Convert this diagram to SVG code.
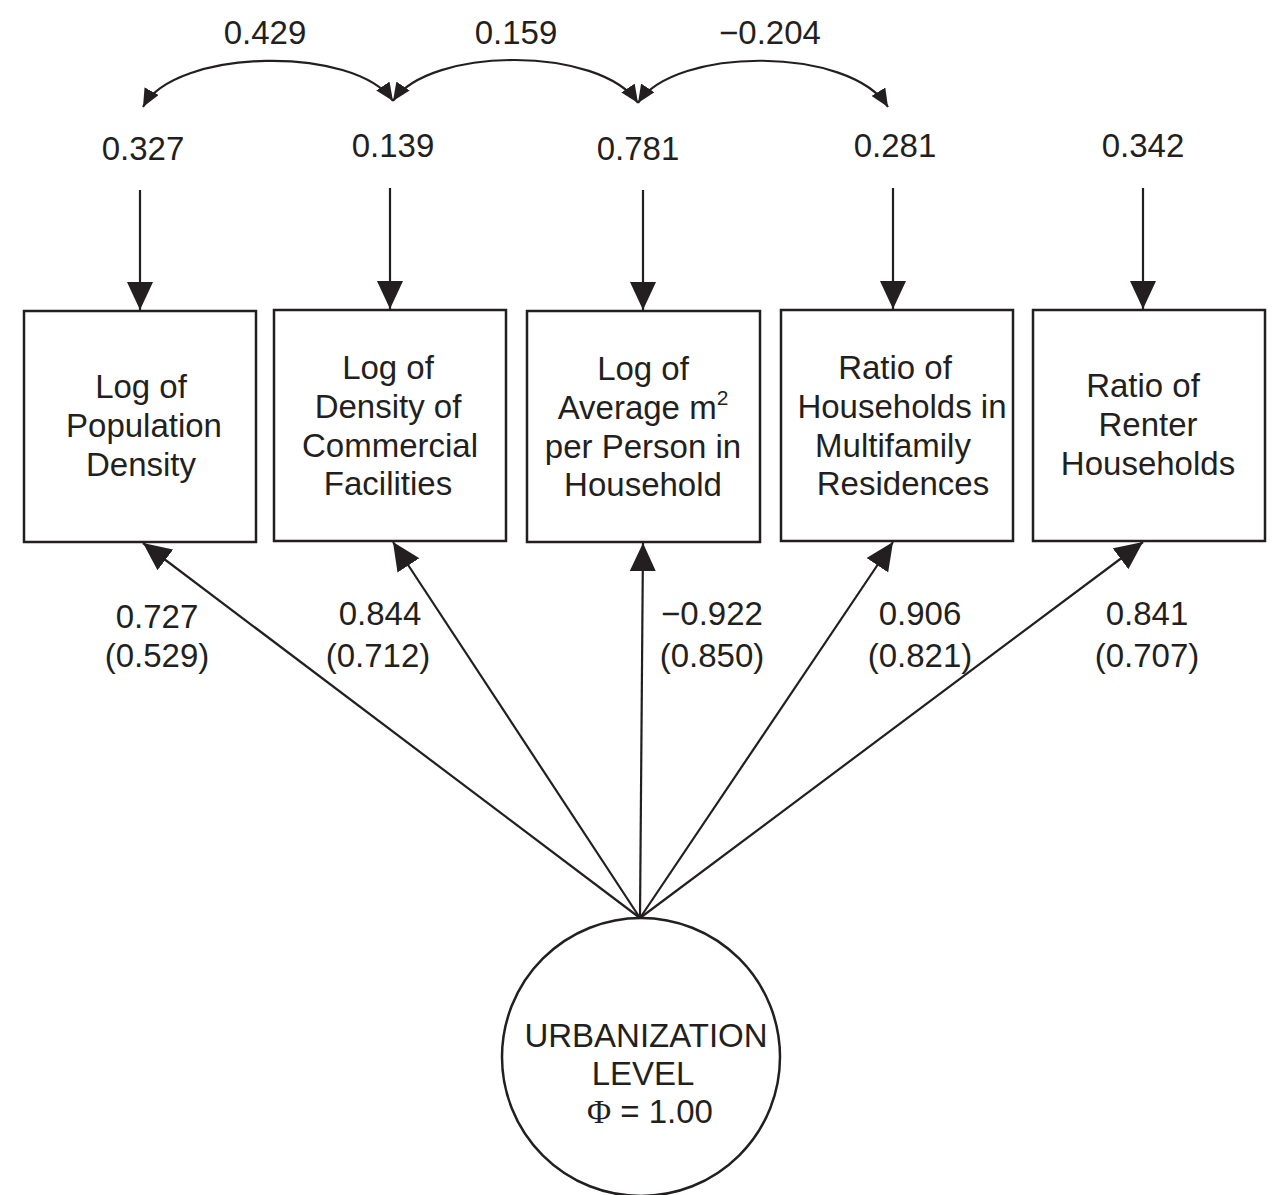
<svg xmlns="http://www.w3.org/2000/svg" width="1279" height="1195" viewBox="0 0 1279 1195">
<defs>
<style>
text{font-family:"Liberation Sans",Arial,sans-serif;font-size:33px;fill:#231f20;text-anchor:middle}
.box{fill:#fff;stroke:#231f20;stroke-width:2.5}
.ln{stroke:#231f20;stroke-width:2.2;fill:none}
</style>
<marker id="ah" markerUnits="userSpaceOnUse" viewBox="0 0 28 26" refX="28" refY="13" markerWidth="28" markerHeight="26" orient="auto">
<path d="M0,0 L28,13 L0,26 Z" fill="#231f20"/>
</marker>
<marker id="sh" markerUnits="userSpaceOnUse" viewBox="0 0 18 16" refX="18" refY="8" markerWidth="18" markerHeight="16" orient="auto-start-reverse">
<path d="M0,0 L18,8 L0,16 Z" fill="#231f20"/>
</marker>
</defs>
<rect width="1279" height="1195" fill="#fff"/>
<g id="connectors">
<path class="ln" d="M143,107 C175,48 355,45 393,101" marker-start="url(#sh)" marker-end="url(#sh)"/>
<path class="ln" d="M393,101 C430,46 600,46 638,103" marker-start="url(#sh)" marker-end="url(#sh)"/>
<path class="ln" d="M638,103 C675,46 850,46 888,107" marker-start="url(#sh)" marker-end="url(#sh)"/>
<line class="ln" x1="140" y1="190" x2="140" y2="310" marker-end="url(#ah)"/>
<line class="ln" x1="390" y1="188" x2="390" y2="309" marker-end="url(#ah)"/>
<line class="ln" x1="643" y1="190" x2="643" y2="310" marker-end="url(#ah)"/>
<line class="ln" x1="893" y1="188" x2="893" y2="309" marker-end="url(#ah)"/>
<line class="ln" x1="1143" y1="188" x2="1143" y2="309" marker-end="url(#ah)"/>
<line class="ln" x1="640" y1="918" x2="143" y2="543" marker-end="url(#ah)"/>
<line class="ln" x1="640" y1="918" x2="393" y2="542" marker-end="url(#ah)"/>
<line class="ln" x1="640" y1="918" x2="643" y2="543" marker-end="url(#ah)"/>
<line class="ln" x1="640" y1="918" x2="893" y2="542" marker-end="url(#ah)"/>
<line class="ln" x1="640" y1="918" x2="1143" y2="542" marker-end="url(#ah)"/>
</g>
<g id="labels">
<text x="265" y="44">0.429</text>
<text x="516" y="44">0.159</text>
<text x="770" y="44">−0.204</text>
<text x="143" y="160">0.327</text>
<text x="393" y="157">0.139</text>
<text x="638" y="160">0.781</text>
<text x="895" y="157">0.281</text>
<text x="1143" y="157">0.342</text>
<text x="157" y="628">0.727</text>
<text x="157" y="667">(0.529)</text>
<text x="380" y="625">0.844</text>
<text x="378" y="667">(0.712)</text>
<text x="712" y="625">−0.922</text>
<text x="712" y="667">(0.850)</text>
<text x="920" y="625">0.906</text>
<text x="920" y="667">(0.821)</text>
<text x="1147" y="625">0.841</text>
<text x="1147" y="667">(0.707)</text>
</g>
<g id="n1">
<rect class="box" x="24" y="311" width="232" height="231"/>
<text x="141" y="398">Log of</text>
<text x="144" y="437">Population</text>
<text x="141" y="476">Density</text>
</g>
<g id="n2">
<rect class="box" x="274" y="310" width="232" height="231"/>
<text x="388" y="379">Log of</text>
<text x="388" y="418">Density of</text>
<text x="390" y="457">Commercial</text>
<text x="388" y="495">Facilities</text>
</g>
<g id="n3">
<rect class="box" x="527" y="311" width="233" height="231"/>
<text x="643" y="380">Log of</text>
<text x="643" y="419">Average m<tspan font-size="21" dy="-14">2</tspan></text>
<text x="643" y="458">per Person in</text>
<text x="643" y="496">Household</text>
</g>
<g id="n4">
<rect class="box" x="781" y="310" width="232" height="231"/>
<text x="895" y="379">Ratio of</text>
<text x="902" y="418">Households in</text>
<text x="893" y="457">Multifamily</text>
<text x="903" y="495">Residences</text>
</g>
<g id="n5">
<rect class="box" x="1033" y="310" width="232" height="231"/>
<text x="1143" y="397">Ratio of</text>
<text x="1148" y="436">Renter</text>
<text x="1148" y="475">Households</text>
</g>
<g id="latent">
<circle cx="641" cy="1057" r="139" fill="#fff" stroke="#231f20" stroke-width="2.5"/>
<text x="646" y="1047">URBANIZATION</text>
<text x="643" y="1085">LEVEL</text>
<text x="650" y="1123"><tspan font-family="'Liberation Serif',serif">Φ</tspan> = 1.00</text>
</g>
</svg>
